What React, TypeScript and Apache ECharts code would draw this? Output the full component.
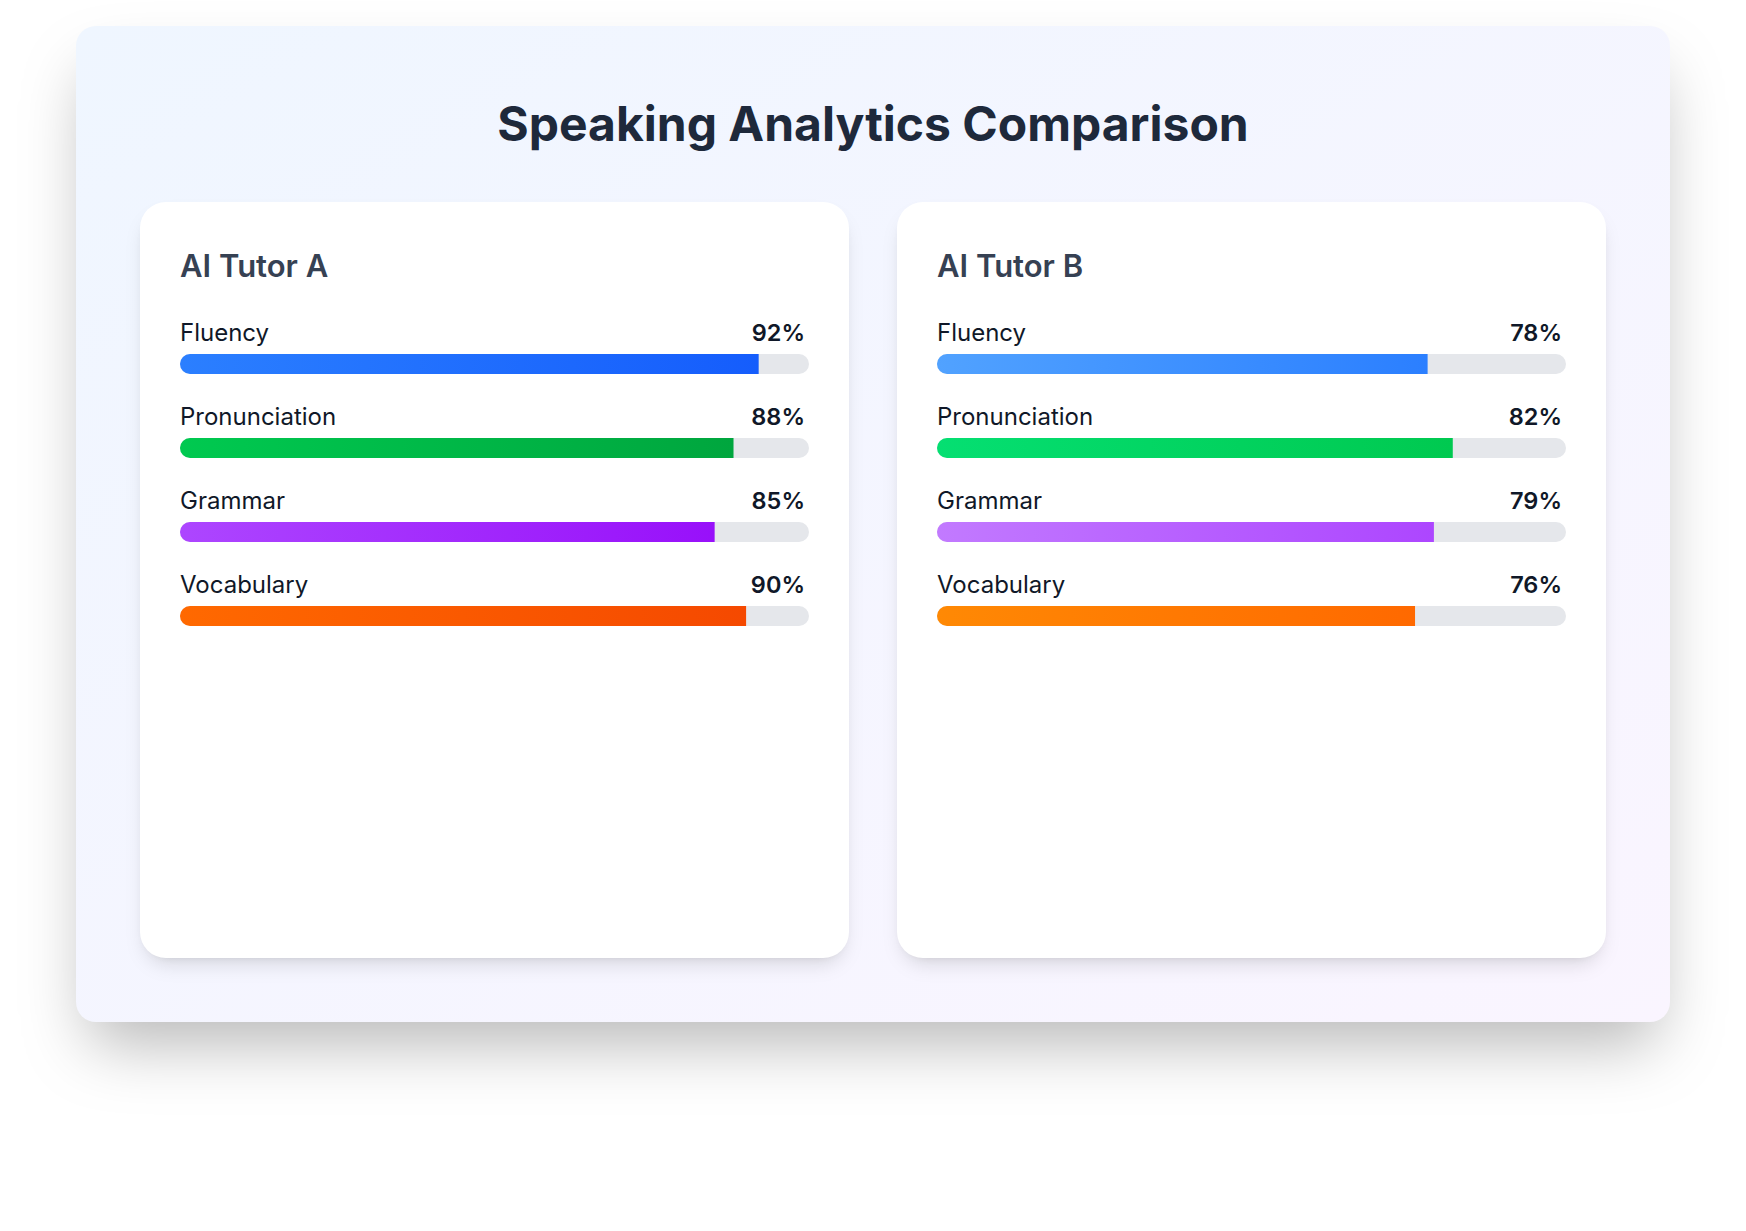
import React, { useEffect, useRef } from 'react';
import * as echarts from 'echarts';

const chartTitle = 'Speaking Analytics Comparison';
const tutorNames = ['AI Tutor A', 'AI Tutor B'];
const categories = ['Fluency', 'Pronunciation', 'Grammar', 'Vocabulary'];
const tutorAScores = [92, 88, 85, 90];
const tutorBScores = [78, 82, 79, 76];
const trackValues = [100, 100, 100, 100];

const tutorAGradients = [
  ['#2b7fff', '#155dfc'],
  ['#00c950', '#00a63e'],
  ['#ad46ff', '#9810fa'],
  ['#ff6900', '#f54900'],
];
const tutorBGradients = [
  ['#51a2ff', '#2b7fff'],
  ['#05df72', '#00c950'],
  ['#c27aff', '#ad46ff'],
  ['#ff8904', '#ff6900'],
];

const W = 1746;
const H = 1231;
const FONT = 'Inter, "Noto Sans", sans-serif';

const OUTER = { x: 76, y: 26, w: 1594, h: 996, r: 20 };
const CARD_W = 709;
const CARD_H = 756;
const CARD_Y = 202;
const CARD_XS = [140, 897];
const PAD = 40;
const TRACK_W = 629;
const GRID_TOP = 322;
const ROW_H = 84;

export default function App() {
  const ref = useRef<HTMLDivElement>(null);

  useEffect(() => {
    if (!ref.current) return;
    const chart = echarts.init(ref.current, undefined, { renderer: 'svg', width: W, height: H });

    const scoresList = [tutorAScores, tutorBScores];
    const gradList = [tutorAGradients, tutorBGradients];

    const graphics: any[] = [];
    // outer panel shadow (inset rect to emulate negative spread)
    graphics.push({
      type: 'rect',
      z: -10,
      shape: { x: OUTER.x + 12, y: OUTER.y + 12, width: OUTER.w - 24, height: OUTER.h - 24, r: OUTER.r },
      style: { fill: '#ffffff', shadowBlur: 64, shadowOffsetY: 34, shadowColor: 'rgba(0,0,0,0.28)' },
    });
    graphics.push({
      type: 'rect',
      z: -9,
      shape: { x: OUTER.x, y: OUTER.y, width: OUTER.w, height: OUTER.h, r: OUTER.r },
      style: {
        fill: new echarts.graphic.LinearGradient(0, 0, 1, 1, [
          { offset: 0, color: '#eff6ff' },
          { offset: 1, color: '#faf5ff' },
        ]),
      },
    });
    graphics.push({
      type: 'text',
      z: -5,
      x: OUTER.x + OUTER.w / 2,
      y: 123,
      style: {
        text: chartTitle,
        fontFamily: FONT,
        fontSize: 48,
        fontWeight: 700,
        fill: '#1e293b',
        align: 'center',
        verticalAlign: 'middle',
      },
    });
    CARD_XS.forEach((cx, k) => {
      graphics.push({
        type: 'rect',
        z: -8,
        shape: { x: cx + 3, y: CARD_Y + 3, width: CARD_W - 6, height: CARD_H - 6, r: 26 },
        style: { fill: '#ffffff', shadowBlur: 17, shadowOffsetY: 11, shadowColor: 'rgba(0,0,0,0.1)' },
      });
      graphics.push({
        type: 'rect',
        z: -8,
        shape: { x: cx + 4.5, y: CARD_Y + 4.5, width: CARD_W - 9, height: CARD_H - 9, r: 26 },
        style: { fill: '#ffffff', shadowBlur: 7, shadowOffsetY: 4.5, shadowColor: 'rgba(0,0,0,0.1)' },
      });
      graphics.push({
        type: 'rect',
        z: -7,
        shape: { x: cx, y: CARD_Y, width: CARD_W, height: CARD_H, r: 26 },
        style: { fill: '#ffffff' },
      });
      graphics.push({
        type: 'text',
        z: -5,
        x: cx + PAD,
        y: 265.5,
        style: {
          text: tutorNames[k],
          fontFamily: FONT,
          fontSize: 31,
          fontWeight: 600,
          fill: '#364153',
          align: 'left',
          verticalAlign: 'middle',
        },
      });
    });

    const grids = CARD_XS.map((cx) => ({
      left: cx + PAD,
      top: GRID_TOP,
      width: TRACK_W,
      height: ROW_H * categories.length,
      containLabel: false,
    }));
    const xAxes = CARD_XS.map((_, k) => ({
      type: 'value',
      gridIndex: k,
      min: 0,
      max: 100,
      show: false,
    }));
    const yAxes = CARD_XS.map((_, k) => ({
      type: 'category',
      gridIndex: k,
      data: categories,
      inverse: true,
      show: false,
    }));

    const series: any[] = [];
    CARD_XS.forEach((_, k) => {
      const scores = scoresList[k];
      const grads = gradList[k];
      series.push({
        type: 'bar',
        xAxisIndex: k,
        yAxisIndex: k,
        data: trackValues,
        barWidth: 20,
        barGap: '-100%',
        silent: true,
        z: 10,
        itemStyle: { color: '#e5e7eb', borderRadius: 10 },
        label: {
          show: true,
          position: ['100%', -21.8],
          offset: [-4, 0],
          align: 'right',
          verticalAlign: 'middle',
          formatter: (p: any) => `${scores[p.dataIndex]}%`,
          fontFamily: FONT,
          fontSize: 23.5,
          fontWeight: 600,
          color: '#101828',
        },
      });
      series.push({
        type: 'bar',
        xAxisIndex: k,
        yAxisIndex: k,
        data: scores.map((v, i) => ({
          value: v,
          itemStyle: {
            color: new echarts.graphic.LinearGradient(0, 0, 1, 0, [
              { offset: 0, color: grads[i][0] },
              { offset: 1, color: grads[i][1] },
            ]),
          },
        })),
        barWidth: 20,
        barGap: '-100%',
        silent: true,
        z: 11,
        itemStyle: { borderRadius: [10, 0, 0, 10] },
        label: {
          show: true,
          position: [0, -21.8],
          align: 'left',
          verticalAlign: 'middle',
          formatter: '{b}',
          fontFamily: FONT,
          fontSize: 24,
          fontWeight: 400,
          color: '#101828',
        },
      });
    });

    chart.setOption({
      animation: false,
      backgroundColor: '#ffffff',
      graphic: { elements: graphics },
      grid: grids,
      xAxis: xAxes,
      yAxis: yAxes,
      series,
    });

    return () => {
      chart.dispose();
    };
  }, []);

  return (
    <div
      ref={ref}
      style={{ position: 'absolute', left: 0, top: 0, width: W, height: H, background: '#ffffff' }}
    />
  );
}
